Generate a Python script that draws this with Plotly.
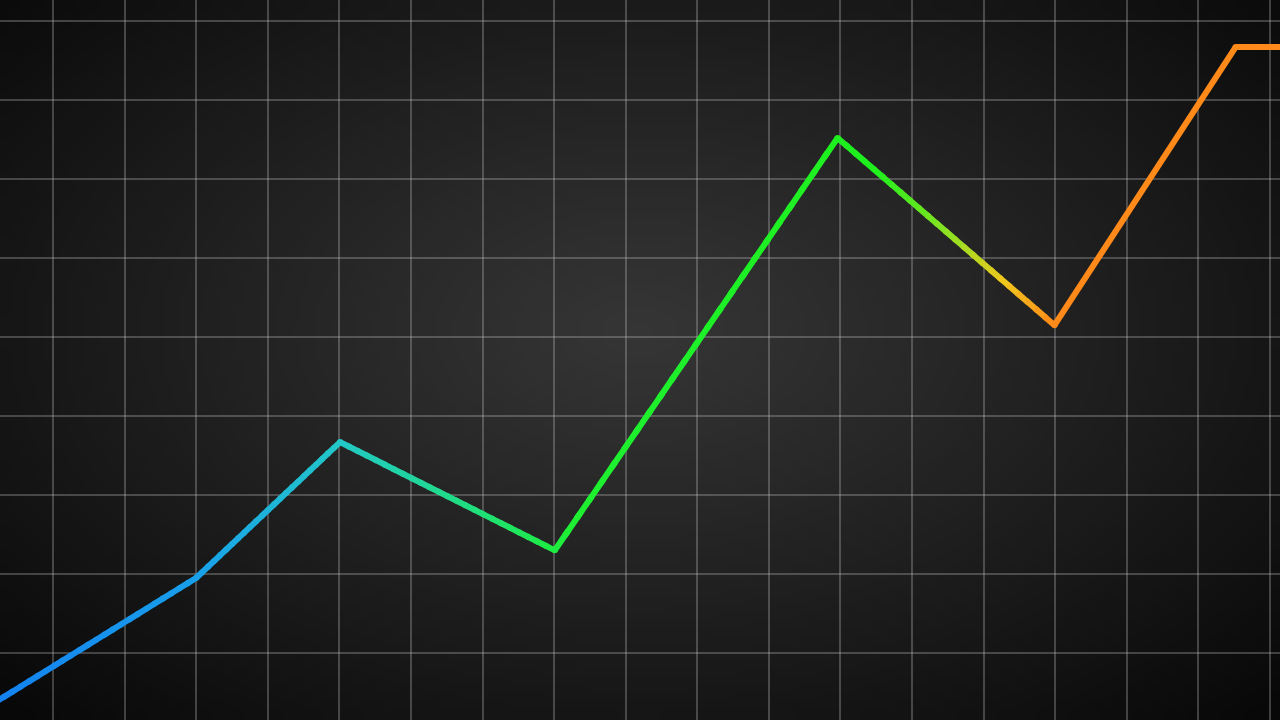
import base64
import struct
import zlib

import numpy as np
import plotly.graph_objects as go

# ---- data (grid units) ----
x_vals = [-0.80, 2.00, 4.01, 7.01, 10.96, 13.99, 16.52, 17.60]
y_vals = [-0.62, 0.95, 2.67, 1.30, 6.52, 4.15, 7.67, 7.67]

# colour stops along the x direction
stop_x = [-0.80, 2.00, 4.01, 6.00, 7.30, 11.50, 12.60, 13.30, 13.99, 17.60]
stop_rgb = [
    (20, 130, 240),
    (25, 160, 235),
    (35, 200, 200),
    (32, 225, 120),
    (30, 240, 50),
    (30, 240, 30),
    (150, 225, 35),
    (240, 200, 30),
    (255, 138, 25),
    (255, 138, 25),
]


def colour_at(x):
    r = np.interp(x, stop_x, [c[0] for c in stop_rgb])
    g = np.interp(x, stop_x, [c[1] for c in stop_rgb])
    b = np.interp(x, stop_x, [c[2] for c in stop_rgb])
    return f"rgb({int(r)},{int(g)},{int(b)})"


# ---- radial background as a small PNG ----
def make_bg(w=160, h=90):
    rows = b""
    for j in range(h):
        row = b"\x00"
        for i in range(w):
            dx = (i / (w - 1) - 0.5) / 0.5
            dy = (j / (h - 1) - 0.46) / 0.54
            d = min(1.0, (dx * dx + dy * dy) ** 0.5 / 2 ** 0.5)
            v = int(54 - 46 * d ** 1.05)
            row += bytes((v, v, v))
        rows += row

    def chunk(tag, data):
        c = struct.pack(">I", len(data)) + tag + data
        return c + struct.pack(">I", zlib.crc32(tag + data) & 0xFFFFFFFF)

    png = b"\x89PNG\r\n\x1a\n"
    png += chunk(b"IHDR", struct.pack(">IIBBBBB", w, h, 8, 2, 0, 0, 0))
    png += chunk(b"IDAT", zlib.compress(rows, 9))
    png += chunk(b"IEND", b"")
    return "data:image/png;base64," + base64.b64encode(png).decode()


fig = go.Figure()

LINE_W = 6

# draw the line as coloured pieces so the colour runs smoothly along it
for k in range(len(x_vals) - 1):
    x0, x1 = x_vals[k], x_vals[k + 1]
    y0, y1 = y_vals[k], y_vals[k + 1]
    same = colour_at(x0) == colour_at(x1)
    n = 1 if same else 24
    for s in range(n):
        t0 = max(0.0, (s - 0.15) / n)
        t1 = min(1.0, (s + 1.15) / n)
        xa, xb = x0 + (x1 - x0) * t0, x0 + (x1 - x0) * t1
        ya, yb = y0 + (y1 - y0) * t0, y0 + (y1 - y0) * t1
        fig.add_trace(
            go.Scatter(
                x=[xa, xb],
                y=[ya, yb],
                mode="lines",
                line=dict(color=colour_at((x0 + (x1 - x0) * (s + 0.5) / n)), width=LINE_W),
                hoverinfo="skip",
                showlegend=False,
            )
        )

# round off the corners at each vertex
fig.add_trace(
    go.Scatter(
        x=x_vals,
        y=y_vals,
        mode="markers",
        marker=dict(size=LINE_W, color=[colour_at(v) for v in x_vals], line=dict(width=0)),
        hoverinfo="skip",
        showlegend=False,
    )
)

fig.update_layout(
    width=1280,
    height=720,
    margin=dict(l=0, r=0, t=0, b=0),
    paper_bgcolor="#141414",
    plot_bgcolor="rgba(0,0,0,0)",
    showlegend=False,
    images=[
        dict(
            source=make_bg(),
            xref="paper",
            yref="paper",
            x=0,
            y=1,
            sizex=1,
            sizey=1,
            sizing="stretch",
            layer="below",
            xanchor="left",
            yanchor="top",
        )
    ],
    xaxis=dict(
        range=[-0.74, 17.14],
        tick0=0,
        dtick=1,
        showgrid=True,
        gridcolor="rgba(210,210,210,0.28)",
        gridwidth=2,
        zeroline=False,
        showticklabels=False,
        ticks="",
        showline=False,
        fixedrange=True,
    ),
    yaxis=dict(
        range=[-0.848, 8.266],
        tick0=0,
        dtick=1,
        showgrid=True,
        gridcolor="rgba(210,210,210,0.28)",
        gridwidth=2,
        zeroline=False,
        showticklabels=False,
        ticks="",
        showline=False,
        fixedrange=True,
    ),
)

fig.write_html(
    "out.html",
    config={"displayModeBar": False, "staticPlot": True},
    post_script="document.body.style.margin='0';document.body.style.overflow='hidden';document.body.style.background='#141414';",
)
